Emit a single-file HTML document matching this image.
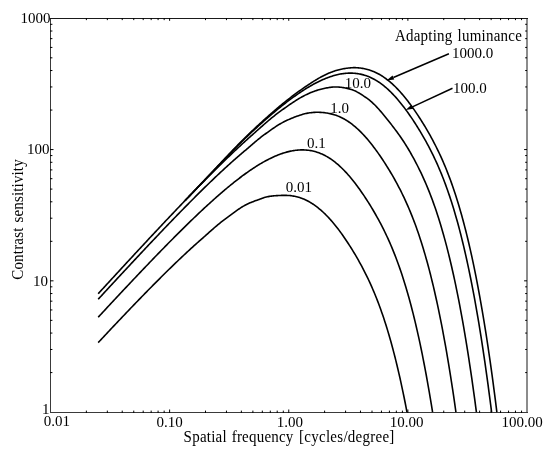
<!DOCTYPE html>
<html><head><meta charset="utf-8"><title>Contrast sensitivity</title>
<style>html,body{margin:0;padding:0;background:#fff}svg{display:block}</style></head>
<body>
<svg width="550" height="456" viewBox="0 0 550 456">
<rect width="550" height="456" fill="#fff"/>
<g shape-rendering="crispEdges">
<rect x="526" y="18" width="2" height="395" fill="#8c8c8c"/>
<rect x="50" y="18" width="1" height="395" fill="#3a3a3a"/>
<rect x="50" y="18" width="477.6" height="1" fill="#1a1a1a"/>
<rect x="50" y="412" width="477.6" height="1" fill="#3a3a3a"/>
</g>
<path d="M86.36 413v-2.4M86.36 18v2.14M107.34 413v-2.4M107.34 18v2.14M122.22 413v-2.4M122.22 18v2.14M133.76 413v-2.4M133.76 18v2.14M143.20 413v-2.4M143.20 18v2.14M151.17 413v-2.4M151.17 18v2.14M158.08 413v-2.4M158.08 18v2.14M164.17 413v-2.4M164.17 18v2.14M169.62 413v-3.5M169.62 18v2.80M205.49 413v-2.4M205.49 18v2.14M226.46 413v-2.4M226.46 18v2.14M241.35 413v-2.4M241.35 18v2.14M252.89 413v-2.4M252.89 18v2.14M262.32 413v-2.4M262.32 18v2.14M270.30 413v-2.4M270.30 18v2.14M277.21 413v-2.4M277.21 18v2.14M283.30 413v-2.4M283.30 18v2.14M288.75 413v-3.5M288.75 18v2.80M324.61 413v-2.4M324.61 18v2.14M345.59 413v-2.4M345.59 18v2.14M360.47 413v-2.4M360.47 18v2.14M372.01 413v-2.4M372.01 18v2.14M381.45 413v-2.4M381.45 18v2.14M389.42 413v-2.4M389.42 18v2.14M396.33 413v-2.4M396.33 18v2.14M402.42 413v-2.4M402.42 18v2.14M407.88 413v-3.5M407.88 18v2.80M443.74 413v-2.4M443.74 18v2.14M464.71 413v-2.4M464.71 18v2.14M479.60 413v-2.4M479.60 18v2.14M491.14 413v-2.4M491.14 18v2.14M500.57 413v-2.4M500.57 18v2.14M508.55 413v-2.4M508.55 18v2.14M515.46 413v-2.4M515.46 18v2.14M521.55 413v-2.4M521.55 18v2.14M50 372.58h2.4M527 372.58h-1.7999999999999998M50 349.47h2.4M527 349.47h-1.7999999999999998M50 333.07h2.4M527 333.07h-1.7999999999999998M50 320.35h2.4M527 320.35h-1.7999999999999998M50 309.95h2.4M527 309.95h-1.7999999999999998M50 301.17h2.4M527 301.17h-1.7999999999999998M50 293.55h2.4M527 293.55h-1.7999999999999998M50 286.84h2.4M527 286.84h-1.7999999999999998M50 280.83h3.5M527 280.83h-2.9M50 241.32h2.4M527 241.32h-1.7999999999999998M50 218.20h2.4M527 218.20h-1.7999999999999998M50 201.80h2.4M527 201.80h-1.7999999999999998M50 189.08h2.4M527 189.08h-1.7999999999999998M50 178.69h2.4M527 178.69h-1.7999999999999998M50 169.90h2.4M527 169.90h-1.7999999999999998M50 162.29h2.4M527 162.29h-1.7999999999999998M50 155.57h2.4M527 155.57h-1.7999999999999998M50 149.57h3.5M527 149.57h-2.9M50 110.05h2.4M527 110.05h-1.7999999999999998M50 86.94h2.4M527 86.94h-1.7999999999999998M50 70.54h2.4M527 70.54h-1.7999999999999998M50 57.82h2.4M527 57.82h-1.7999999999999998M50 47.42h2.4M527 47.42h-1.7999999999999998M50 38.63h2.4M527 38.63h-1.7999999999999998M50 31.02h2.4M527 31.02h-1.7999999999999998M50 24.31h2.4M527 24.31h-1.7999999999999998" stroke="#000" stroke-width="1" fill="none"/>
<path d="M98.20 342.60L99.21 341.51L100.22 340.43L101.24 339.35L102.25 338.27L103.26 337.19L104.27 336.11L105.29 335.03L106.30 333.95L107.31 332.87L108.32 331.80L109.34 330.72L110.35 329.64L111.36 328.57L112.37 327.50L113.39 326.42L114.40 325.35L115.41 324.28L116.42 323.21L117.44 322.14L118.45 321.07L119.46 320.00L120.47 318.93L121.49 317.87L122.50 316.80L123.51 315.74L124.52 314.68L125.54 313.62L126.55 312.55L127.56 311.49L128.57 310.44L129.59 309.38L130.60 308.32L131.61 307.27L132.62 306.21L133.64 305.16L134.65 304.11L135.66 303.06L136.67 302.01L137.69 300.96L138.70 299.92L139.71 298.87L140.72 297.83L141.73 296.79L142.75 295.74L143.76 294.71L144.77 293.67L145.78 292.63L146.80 291.60L147.81 290.56L148.82 289.53L149.83 288.50L150.85 287.48L151.86 286.45L152.87 285.42L153.88 284.40L154.90 283.38L155.91 282.36L156.92 281.34L157.93 280.33L158.95 279.32L159.96 278.31L160.97 277.30L161.98 276.29L163.00 275.28L164.01 274.28L165.02 273.28L166.03 272.28L167.05 271.29L168.06 270.29L169.07 269.30L170.08 268.31L171.10 267.33L172.11 266.34L173.12 265.36L174.13 264.38L175.15 263.41L176.16 262.44L177.17 261.47L178.18 260.50L179.19 259.53L180.21 258.57L181.22 257.62L182.23 256.66L183.24 255.71L184.26 254.76L185.27 253.81L186.28 252.87L187.29 251.93L188.31 251.00L189.32 250.07L190.33 249.14L191.34 248.21L192.36 247.29L193.37 246.38L194.38 245.46L195.39 244.55L196.41 243.65L197.42 242.75L198.43 241.85L199.44 240.96L200.46 240.07L201.47 239.18L202.48 238.28L203.49 237.39L204.51 236.49L205.52 235.58L206.53 234.68L207.54 233.78L208.56 232.87L209.57 231.97L210.58 231.07L211.59 230.18L212.61 229.28L213.62 228.40L214.63 227.52L215.64 226.65L216.66 225.79L217.67 224.93L218.68 224.09L219.69 223.26L220.70 222.45L221.72 221.65L222.73 220.86L223.74 220.08L224.75 219.32L225.77 218.57L226.78 217.82L227.79 217.07L228.80 216.31L229.82 215.55L230.83 214.79L231.84 214.04L232.85 213.29L233.87 212.54L234.88 211.80L235.89 211.08L236.90 210.36L237.92 209.66L238.93 208.97L239.94 208.31L240.95 207.66L241.97 207.03L242.98 206.42L243.99 205.84L245.00 205.28L246.02 204.75L247.03 204.24L248.04 203.76L249.05 203.29L250.07 202.85L251.08 202.43L252.09 202.02L253.10 201.63L254.12 201.25L255.13 200.87L256.14 200.50L257.15 200.13L258.17 199.76L259.18 199.40L260.19 199.03L261.20 198.65L262.21 198.28L263.23 197.93L264.24 197.60L265.25 197.31L266.26 197.04L267.28 196.81L268.29 196.60L269.30 196.41L270.31 196.25L271.33 196.11L272.34 195.98L273.35 195.88L274.36 195.79L275.38 195.71L276.39 195.65L277.40 195.59L278.41 195.54L279.43 195.49L280.44 195.46L281.45 195.42L282.46 195.39L283.48 195.36L284.49 195.35L285.50 195.36L286.51 195.38L287.53 195.43L288.54 195.49L289.55 195.57L290.56 195.67L291.58 195.79L292.59 195.93L293.60 196.10L294.61 196.28L295.63 196.49L296.64 196.72L297.65 196.98L298.66 197.26L299.68 197.56L300.69 197.89L301.70 198.25L302.71 198.64L303.72 199.05L304.74 199.49L305.75 199.95L306.76 200.45L307.77 200.98L308.79 201.53L309.80 202.11L310.81 202.73L311.82 203.36L312.84 204.02L313.85 204.71L314.86 205.42L315.87 206.16L316.89 206.92L317.90 207.71L318.91 208.52L319.92 209.36L320.94 210.22L321.95 211.11L322.96 212.03L323.97 212.98L324.99 213.95L326.00 214.95L327.01 215.97L328.02 217.02L329.04 218.10L330.05 219.21L331.06 220.35L332.07 221.51L333.09 222.70L334.10 223.91L335.11 225.15L336.12 226.42L337.14 227.72L338.15 229.04L339.16 230.39L340.17 231.76L341.18 233.15L342.20 234.57L343.21 236.01L344.22 237.47L345.23 238.95L346.25 240.45L347.26 241.98L348.27 243.52L349.28 245.09L350.30 246.67L351.31 248.28L352.32 249.92L353.33 251.57L354.35 253.25L355.36 254.95L356.37 256.68L357.38 258.43L358.40 260.21L359.41 262.02L360.42 263.85L361.43 265.72L362.45 267.62L363.46 269.55L364.47 271.52L365.48 273.52L366.50 275.57L367.51 277.65L368.52 279.78L369.53 281.95L370.55 284.16L371.56 286.42L372.57 288.74L373.58 291.10L374.60 293.52L375.61 296.00L376.62 298.54L377.63 301.13L378.65 303.79L379.66 306.51L380.67 309.30L381.68 312.16L382.69 315.09L383.71 318.09L384.72 321.17L385.73 324.33L386.74 327.56L387.76 330.88L388.77 334.28L389.78 337.76L390.79 341.34L391.81 345.00L392.82 348.76L393.83 352.61L394.84 356.55L395.86 360.60L396.87 364.74L397.88 368.99L398.89 373.34L399.91 377.80L400.92 382.37L401.93 387.05L402.94 391.84L403.96 396.75L404.97 401.78L405.98 406.93L406.97 412.10" fill="none" stroke="#000" stroke-width="1.6" stroke-linejoin="round"/>
<path d="M98.20 317.23L99.21 316.13L100.22 315.04L101.24 313.95L102.25 312.86L103.26 311.77L104.27 310.68L105.29 309.59L106.30 308.50L107.31 307.41L108.32 306.32L109.34 305.23L110.35 304.15L111.36 303.06L112.37 301.97L113.39 300.89L114.40 299.80L115.41 298.72L116.42 297.64L117.44 296.55L118.45 295.47L119.46 294.39L120.47 293.31L121.49 292.23L122.50 291.15L123.51 290.07L124.52 288.99L125.54 287.91L126.55 286.84L127.56 285.76L128.57 284.68L129.59 283.61L130.60 282.54L131.61 281.46L132.62 280.39L133.64 279.32L134.65 278.25L135.66 277.18L136.67 276.11L137.69 275.05L138.70 273.98L139.71 272.91L140.72 271.85L141.73 270.78L142.75 269.72L143.76 268.66L144.77 267.60L145.78 266.54L146.80 265.48L147.81 264.43L148.82 263.37L149.83 262.32L150.85 261.26L151.86 260.21L152.87 259.16L153.88 258.11L154.90 257.06L155.91 256.01L156.92 254.97L157.93 253.92L158.95 252.88L159.96 251.84L160.97 250.80L161.98 249.76L163.00 248.72L164.01 247.69L165.02 246.65L166.03 245.62L167.05 244.59L168.06 243.56L169.07 242.53L170.08 241.51L171.10 240.48L172.11 239.46L173.12 238.44L174.13 237.42L175.15 236.41L176.16 235.39L177.17 234.38L178.18 233.37L179.19 232.36L180.21 231.35L181.22 230.35L182.23 229.35L183.24 228.35L184.26 227.35L185.27 226.36L186.28 225.36L187.29 224.37L188.31 223.39L189.32 222.40L190.33 221.42L191.34 220.44L192.36 219.46L193.37 218.49L194.38 217.51L195.39 216.55L196.41 215.58L197.42 214.62L198.43 213.66L199.44 212.70L200.46 211.74L201.47 210.79L202.48 209.85L203.49 208.90L204.51 207.96L205.52 207.02L206.53 206.09L207.54 205.16L208.56 204.23L209.57 203.31L210.58 202.39L211.59 201.47L212.61 200.56L213.62 199.65L214.63 198.75L215.64 197.85L216.66 196.96L217.67 196.07L218.68 195.18L219.69 194.30L220.70 193.42L221.72 192.55L222.73 191.68L223.74 190.82L224.75 189.96L225.77 189.11L226.78 188.26L227.79 187.42L228.80 186.58L229.82 185.75L230.83 184.92L231.84 184.10L232.85 183.29L233.87 182.48L234.88 181.67L235.89 180.88L236.90 180.09L237.92 179.30L238.93 178.52L239.94 177.75L240.95 176.99L241.97 176.23L242.98 175.48L243.99 174.74L245.00 174.00L246.02 173.27L247.03 172.55L248.04 171.84L249.05 171.13L250.07 170.44L251.08 169.75L252.09 169.06L253.10 168.39L254.12 167.73L255.13 167.07L256.14 166.43L257.15 165.79L258.17 165.16L259.18 164.54L260.19 163.93L261.20 163.33L262.21 162.74L263.23 162.16L264.24 161.60L265.25 161.04L266.26 160.49L267.28 159.95L268.29 159.43L269.30 158.91L270.31 158.41L271.33 157.92L272.34 157.44L273.35 156.98L274.36 156.52L275.38 156.08L276.39 155.65L277.40 155.24L278.41 154.84L279.43 154.45L280.44 154.07L281.45 153.71L282.46 153.37L283.48 153.04L284.49 152.72L285.50 152.42L286.51 152.13L287.53 151.86L288.54 151.61L289.55 151.37L290.56 151.15L291.58 150.94L292.59 150.76L293.60 150.59L294.61 150.43L295.63 150.30L296.64 150.18L297.65 150.08L298.66 150.01L299.68 149.95L300.69 149.91L301.70 149.88L302.71 149.88L303.72 149.90L304.74 149.94L305.75 150.00L306.76 150.09L307.77 150.19L308.79 150.32L309.80 150.46L310.81 150.64L311.82 150.83L312.84 151.04L313.85 151.28L314.86 151.55L315.87 151.84L316.89 152.15L317.90 152.48L318.91 152.85L319.92 153.23L320.94 153.64L321.95 154.08L322.96 154.54L323.97 155.03L324.99 155.55L326.00 156.09L327.01 156.66L328.02 157.26L329.04 157.88L330.05 158.53L331.06 159.21L332.07 159.91L333.09 160.64L334.10 161.40L335.11 162.19L336.12 163.01L337.14 163.85L338.15 164.72L339.16 165.62L340.17 166.54L341.18 167.50L342.20 168.48L343.21 169.49L344.22 170.52L345.23 171.58L346.25 172.67L347.26 173.78L348.27 174.92L349.28 176.09L350.30 177.28L351.31 178.50L352.32 179.74L353.33 181.00L354.35 182.29L355.36 183.60L356.37 184.94L357.38 186.30L358.40 187.68L359.41 189.08L360.42 190.51L361.43 191.95L362.45 193.42L363.46 194.91L364.47 196.42L365.48 197.95L366.50 199.50L367.51 201.08L368.52 202.67L369.53 204.29L370.55 205.93L371.56 207.59L372.57 209.28L373.58 210.99L374.60 212.73L375.61 214.49L376.62 216.28L377.63 218.10L378.65 219.94L379.66 221.82L380.67 223.73L381.68 225.68L382.69 227.66L383.71 229.68L384.72 231.73L385.73 233.83L386.74 235.97L387.76 238.16L388.77 240.39L389.78 242.67L390.79 245.00L391.81 247.39L392.82 249.83L393.83 252.33L394.84 254.88L395.86 257.50L396.87 260.18L397.88 262.93L398.89 265.74L399.91 268.63L400.92 271.58L401.93 274.61L402.94 277.72L403.96 280.90L404.97 284.16L405.98 287.51L406.99 290.94L408.01 294.46L409.02 298.06L410.03 301.76L411.04 305.55L412.06 309.43L413.07 313.41L414.08 317.49L415.09 321.67L416.11 325.96L417.12 330.35L418.13 334.85L419.14 339.45L420.16 344.18L421.17 349.01L422.18 353.96L423.19 359.04L424.20 364.23L425.22 369.55L426.23 375.00L427.24 380.57L428.25 386.28L429.27 392.12L430.28 398.10L431.29 404.22L432.30 410.48L432.56 412.10" fill="none" stroke="#000" stroke-width="1.6" stroke-linejoin="round"/>
<path d="M98.20 299.23L99.21 298.13L100.22 297.03L101.24 295.93L102.25 294.84L103.26 293.74L104.27 292.64L105.29 291.54L106.30 290.44L107.31 289.35L108.32 288.25L109.34 287.16L110.35 286.06L111.36 284.97L112.37 283.87L113.39 282.78L114.40 281.68L115.41 280.59L116.42 279.50L117.44 278.40L118.45 277.31L119.46 276.22L120.47 275.13L121.49 274.04L122.50 272.95L123.51 271.86L124.52 270.77L125.54 269.68L126.55 268.59L127.56 267.51L128.57 266.42L129.59 265.33L130.60 264.25L131.61 263.16L132.62 262.08L133.64 260.99L134.65 259.91L135.66 258.83L136.67 257.74L137.69 256.66L138.70 255.58L139.71 254.50L140.72 253.42L141.73 252.34L142.75 251.27L143.76 250.19L144.77 249.11L145.78 248.04L146.80 246.96L147.81 245.89L148.82 244.81L149.83 243.74L150.85 242.67L151.86 241.60L152.87 240.53L153.88 239.46L154.90 238.39L155.91 237.33L156.92 236.26L157.93 235.19L158.95 234.13L159.96 233.07L160.97 232.00L161.98 230.94L163.00 229.88L164.01 228.82L165.02 227.77L166.03 226.71L167.05 225.66L168.06 224.60L169.07 223.55L170.08 222.50L171.10 221.45L172.11 220.40L173.12 219.35L174.13 218.30L175.15 217.26L176.16 216.21L177.17 215.17L178.18 214.13L179.19 213.09L180.21 212.05L181.22 211.02L182.23 209.98L183.24 208.95L184.26 207.92L185.27 206.89L186.28 205.86L187.29 204.83L188.31 203.81L189.32 202.78L190.33 201.76L191.34 200.74L192.36 199.72L193.37 198.71L194.38 197.69L195.39 196.68L196.41 195.67L197.42 194.67L198.43 193.66L199.44 192.66L200.46 191.66L201.47 190.66L202.48 189.66L203.49 188.67L204.51 187.68L205.52 186.69L206.53 185.70L207.54 184.72L208.56 183.73L209.57 182.76L210.58 181.78L211.59 180.81L212.61 179.83L213.62 178.87L214.63 177.90L215.64 176.94L216.66 175.98L217.67 175.03L218.68 174.07L219.69 173.12L220.70 172.18L221.72 171.23L222.73 170.29L223.74 169.36L224.75 168.43L225.77 167.50L226.78 166.57L227.79 165.65L228.80 164.73L229.82 163.82L230.83 162.91L231.84 162.00L232.85 161.10L233.87 160.20L234.88 159.31L235.89 158.42L236.90 157.54L237.92 156.66L238.93 155.78L239.94 154.91L240.95 154.05L241.97 153.18L242.98 152.33L243.99 151.48L245.00 150.63L246.02 149.79L247.03 148.93L248.04 148.07L249.05 147.21L250.07 146.34L251.08 145.46L252.09 144.59L253.10 143.71L254.12 142.84L255.13 141.97L256.14 141.11L257.15 140.26L258.17 139.42L259.18 138.59L260.19 137.78L261.20 136.98L262.21 136.20L263.23 135.44L264.24 134.70L265.25 133.98L266.26 133.26L267.28 132.54L268.29 131.82L269.30 131.09L270.31 130.37L271.33 129.65L272.34 128.94L273.35 128.23L274.36 127.54L275.38 126.86L276.39 126.19L277.40 125.55L278.41 124.92L279.43 124.31L280.44 123.73L281.45 123.16L282.46 122.61L283.48 122.07L284.49 121.55L285.50 121.05L286.51 120.56L287.53 120.08L288.54 119.62L289.55 119.18L290.56 118.74L291.58 118.32L292.59 117.91L293.60 117.51L294.61 117.12L295.63 116.74L296.64 116.36L297.65 116.00L298.66 115.64L299.68 115.29L300.69 114.96L301.70 114.64L302.71 114.34L303.72 114.06L304.74 113.81L305.75 113.57L306.76 113.35L307.77 113.16L308.79 112.99L309.80 112.83L310.81 112.70L311.82 112.58L312.84 112.49L313.85 112.42L314.86 112.36L315.87 112.32L316.89 112.30L317.90 112.30L318.91 112.32L319.92 112.36L320.94 112.41L321.95 112.48L322.96 112.56L323.97 112.67L324.99 112.79L326.00 112.92L327.01 113.08L328.02 113.25L329.04 113.44L330.05 113.64L331.06 113.87L332.07 114.12L333.09 114.39L334.10 114.69L335.11 115.01L336.12 115.36L337.14 115.73L338.15 116.13L339.16 116.55L340.17 117.00L341.18 117.47L342.20 117.97L343.21 118.50L344.22 119.05L345.23 119.63L346.25 120.24L347.26 120.88L348.27 121.54L349.28 122.23L350.30 122.94L351.31 123.69L352.32 124.46L353.33 125.26L354.35 126.08L355.36 126.94L356.37 127.82L357.38 128.73L358.40 129.67L359.41 130.63L360.42 131.62L361.43 132.64L362.45 133.69L363.46 134.76L364.47 135.86L365.48 136.99L366.50 138.14L367.51 139.31L368.52 140.52L369.53 141.74L370.55 142.99L371.56 144.27L372.57 145.57L373.58 146.89L374.60 148.23L375.61 149.60L376.62 150.99L377.63 152.40L378.65 153.84L379.66 155.29L380.67 156.77L381.68 158.27L382.69 159.79L383.71 161.33L384.72 162.89L385.73 164.47L386.74 166.08L387.76 167.70L388.77 169.35L389.78 171.02L390.79 172.72L391.81 174.44L392.82 176.19L393.83 177.96L394.84 179.76L395.86 181.59L396.87 183.45L397.88 185.35L398.89 187.27L399.91 189.23L400.92 191.23L401.93 193.26L402.94 195.33L403.96 197.45L404.97 199.61L405.98 201.82L406.99 204.07L408.01 206.37L409.02 208.72L410.03 211.13L411.04 213.60L412.06 216.12L413.07 218.70L414.08 221.34L415.09 224.05L416.11 226.83L417.12 229.67L418.13 232.58L419.14 235.57L420.16 238.63L421.17 241.77L422.18 244.99L423.19 248.28L424.20 251.67L425.22 255.13L426.23 258.69L427.24 262.33L428.25 266.06L429.27 269.89L430.28 273.82L431.29 277.84L432.30 281.96L433.32 286.18L434.33 290.51L435.34 294.95L436.35 299.49L437.37 304.15L438.38 308.92L439.39 313.80L440.40 318.80L441.42 323.93L442.43 329.17L443.44 334.55L444.45 340.05L445.47 345.68L446.48 351.44L447.49 357.34L448.50 363.38L449.52 369.56L450.53 375.88L451.54 382.35L452.55 388.97L453.57 395.74L454.58 402.67L455.59 409.76L455.92 412.10" fill="none" stroke="#000" stroke-width="1.6" stroke-linejoin="round"/>
<path d="M98.20 293.72L99.21 292.62L100.22 291.51L101.24 290.41L102.25 289.30L103.26 288.20L104.27 287.10L105.29 286.00L106.30 284.89L107.31 283.79L108.32 282.69L109.34 281.59L110.35 280.49L111.36 279.39L112.37 278.29L113.39 277.19L114.40 276.09L115.41 274.99L116.42 273.89L117.44 272.79L118.45 271.69L119.46 270.59L120.47 269.49L121.49 268.40L122.50 267.30L123.51 266.20L124.52 265.10L125.54 264.01L126.55 262.91L127.56 261.82L128.57 260.72L129.59 259.63L130.60 258.53L131.61 257.44L132.62 256.35L133.64 255.25L134.65 254.16L135.66 253.07L136.67 251.98L137.69 250.88L138.70 249.79L139.71 248.70L140.72 247.61L141.73 246.53L142.75 245.44L143.76 244.35L144.77 243.26L145.78 242.17L146.80 241.09L147.81 240.00L148.82 238.92L149.83 237.83L150.85 236.75L151.86 235.66L152.87 234.58L153.88 233.50L154.90 232.42L155.91 231.34L156.92 230.26L157.93 229.18L158.95 228.10L159.96 227.02L160.97 225.94L161.98 224.87L163.00 223.79L164.01 222.72L165.02 221.64L166.03 220.57L167.05 219.50L168.06 218.43L169.07 217.35L170.08 216.29L171.10 215.22L172.11 214.15L173.12 213.08L174.13 212.02L175.15 210.95L176.16 209.89L177.17 208.82L178.18 207.76L179.19 206.70L180.21 205.64L181.22 204.58L182.23 203.52L183.24 202.47L184.26 201.41L185.27 200.36L186.28 199.30L187.29 198.25L188.31 197.20L189.32 196.15L190.33 195.10L191.34 194.06L192.36 193.01L193.37 191.97L194.38 190.93L195.39 189.89L196.41 188.85L197.42 187.81L198.43 186.77L199.44 185.74L200.46 184.70L201.47 183.67L202.48 182.64L203.49 181.61L204.51 180.59L205.52 179.56L206.53 178.54L207.54 177.52L208.56 176.50L209.57 175.48L210.58 174.46L211.59 173.45L212.61 172.44L213.62 171.43L214.63 170.42L215.64 169.42L216.66 168.41L217.67 167.41L218.68 166.41L219.69 165.42L220.70 164.42L221.72 163.43L222.73 162.44L223.74 161.46L224.75 160.47L225.77 159.49L226.78 158.51L227.79 157.54L228.80 156.56L229.82 155.59L230.83 154.62L231.84 153.66L232.85 152.70L233.87 151.74L234.88 150.78L235.89 149.83L236.90 148.88L237.92 147.93L238.93 146.99L239.94 146.05L240.95 145.11L241.97 144.18L242.98 143.25L243.99 142.33L245.00 141.41L246.02 140.49L247.03 139.57L248.04 138.67L249.05 137.76L250.07 136.86L251.08 135.96L252.09 135.05L253.10 134.15L254.12 133.25L255.13 132.34L256.14 131.44L257.15 130.53L258.17 129.63L259.18 128.73L260.19 127.83L261.20 126.93L262.21 126.03L263.23 125.14L264.24 124.25L265.25 123.37L266.26 122.49L267.28 121.62L268.29 120.76L269.30 119.91L270.31 119.06L271.33 118.22L272.34 117.39L273.35 116.58L274.36 115.77L275.38 114.97L276.39 114.19L277.40 113.42L278.41 112.66L279.43 111.91L280.44 111.18L281.45 110.45L282.46 109.72L283.48 108.99L284.49 108.27L285.50 107.55L286.51 106.83L287.53 106.12L288.54 105.42L289.55 104.71L290.56 104.02L291.58 103.33L292.59 102.65L293.60 101.98L294.61 101.32L295.63 100.67L296.64 100.03L297.65 99.40L298.66 98.78L299.68 98.18L300.69 97.60L301.70 97.02L302.71 96.47L303.72 95.93L304.74 95.40L305.75 94.89L306.76 94.41L307.77 93.93L308.79 93.48L309.80 93.03L310.81 92.61L311.82 92.20L312.84 91.80L313.85 91.42L314.86 91.05L315.87 90.70L316.89 90.37L317.90 90.05L318.91 89.75L319.92 89.46L320.94 89.18L321.95 88.92L322.96 88.68L323.97 88.45L324.99 88.23L326.00 88.03L327.01 87.84L328.02 87.67L329.04 87.51L330.05 87.36L331.06 87.24L332.07 87.14L333.09 87.07L334.10 87.02L335.11 86.99L336.12 86.99L337.14 87.01L338.15 87.06L339.16 87.12L340.17 87.21L341.18 87.32L342.20 87.45L343.21 87.60L344.22 87.77L345.23 87.96L346.25 88.16L347.26 88.38L348.27 88.62L349.28 88.88L350.30 89.16L351.31 89.47L352.32 89.82L353.33 90.21L354.35 90.63L355.36 91.10L356.37 91.59L357.38 92.12L358.40 92.68L359.41 93.27L360.42 93.89L361.43 94.52L362.45 95.18L363.46 95.86L364.47 96.55L365.48 97.25L366.50 97.97L367.51 98.71L368.52 99.45L369.53 100.24L370.55 101.07L371.56 101.94L372.57 102.85L373.58 103.80L374.60 104.79L375.61 105.81L376.62 106.87L377.63 107.96L378.65 109.07L379.66 110.21L380.67 111.37L381.68 112.56L382.69 113.76L383.71 114.97L384.72 116.20L385.73 117.45L386.74 118.70L387.76 119.96L388.77 121.23L389.78 122.52L390.79 123.81L391.81 125.12L392.82 126.43L393.83 127.76L394.84 129.11L395.86 130.47L396.87 131.84L397.88 133.23L398.89 134.64L399.91 136.08L400.92 137.53L401.93 139.01L402.94 140.52L403.96 142.06L404.97 143.62L405.98 145.22L406.99 146.85L408.01 148.52L409.02 150.22L410.03 151.96L411.04 153.73L412.06 155.53L413.07 157.36L414.08 159.22L415.09 161.12L416.11 163.04L417.12 165.00L418.13 167.00L419.14 169.03L420.16 171.11L421.17 173.22L422.18 175.38L423.19 177.59L424.20 179.84L425.22 182.14L426.23 184.50L427.24 186.91L428.25 189.37L429.27 191.89L430.28 194.47L431.29 197.12L432.30 199.83L433.32 202.60L434.33 205.45L435.34 208.36L436.35 211.35L437.37 214.41L438.38 217.55L439.39 220.76L440.40 224.06L441.42 227.44L442.43 230.91L443.44 234.47L444.45 238.11L445.47 241.84L446.48 245.67L447.49 249.60L448.50 253.62L449.52 257.74L450.53 261.97L451.54 266.30L452.55 270.73L453.57 275.28L454.58 279.93L455.59 284.70L456.60 289.59L457.62 294.59L458.63 299.72L459.64 304.96L460.65 310.33L461.67 315.84L462.68 321.47L463.69 327.23L464.70 333.13L465.71 339.17L466.73 345.35L467.74 351.67L468.75 358.15L469.76 364.77L470.78 371.54L471.79 378.47L472.80 385.56L473.81 392.81L474.83 400.23L475.84 407.81L476.40 412.10" fill="none" stroke="#000" stroke-width="1.6" stroke-linejoin="round"/>
<path d="M185.27 200.36L186.28 199.30L187.29 198.25L188.31 197.19L189.32 196.13L190.33 195.08L191.34 194.02L192.36 192.96L193.37 191.90L194.38 190.84L195.39 189.78L196.41 188.72L197.42 187.66L198.43 186.59L199.44 185.53L200.46 184.47L201.47 183.40L202.48 182.34L203.49 181.28L204.51 180.21L205.52 179.15L206.53 178.08L207.54 177.02L208.56 175.96L209.57 174.89L210.58 173.83L211.59 172.76L212.61 171.70L213.62 170.64L214.63 169.58L215.64 168.51L216.66 167.45L217.67 166.39L218.68 165.33L219.69 164.27L220.70 163.21L221.72 162.16L222.73 161.10L223.74 160.05L224.75 158.99L225.77 157.94L226.78 156.89L227.79 155.85L228.80 154.80L229.82 153.76L230.83 152.72L231.84 151.68L232.85 150.64L233.87 149.61L234.88 148.58L235.89 147.55L236.90 146.53L237.92 145.51L238.93 144.50L239.94 143.48L240.95 142.48L241.97 141.48L242.98 140.48L243.99 139.49L245.00 138.50L246.02 137.52L247.03 136.55L248.04 135.58L249.05 134.63L250.07 133.67L251.08 132.73L252.09 131.78L253.10 130.84L254.12 129.91L255.13 128.97L256.14 128.05L257.15 127.12L258.17 126.20L259.18 125.28L260.19 124.37L261.20 123.46L262.21 122.55L263.23 121.65L264.24 120.75L265.25 119.86L266.26 118.97L267.28 118.08L268.29 117.20L269.30 116.33L270.31 115.46L271.33 114.59L272.34 113.73L273.35 112.87L274.36 112.02L275.38 111.18L276.39 110.34L277.40 109.50L278.41 108.67L279.43 107.85L280.44 107.03L281.45 106.21L282.46 105.41L283.48 104.61L284.49 103.81L285.50 103.02L286.51 102.24L287.53 101.47L288.54 100.70L289.55 99.94L290.56 99.18L291.58 98.43L292.59 97.69L293.60 96.96L294.61 96.23L295.63 95.52L296.64 94.80L297.65 94.10L298.66 93.41L299.68 92.72L300.69 92.04L301.70 91.37L302.71 90.71L303.72 90.06L304.74 89.42L305.75 88.78L306.76 88.16L307.77 87.54L308.79 86.94L309.80 86.34L310.81 85.75L311.82 85.18L312.84 84.61L313.85 84.06L314.86 83.52L315.87 82.98L316.89 82.46L317.90 81.95L318.91 81.45L319.92 80.97L320.94 80.49L321.95 80.03L322.96 79.58L323.97 79.15L324.99 78.72L326.00 78.31L327.01 77.91L328.02 77.53L329.04 77.16L330.05 76.81L331.06 76.47L332.07 76.14L333.09 75.83L334.10 75.53L335.11 75.25L336.12 74.99L337.14 74.74L338.15 74.51L339.16 74.29L340.17 74.09L341.18 73.91L342.20 73.75L343.21 73.60L344.22 73.47L345.23 73.36L346.25 73.27L347.26 73.20L348.27 73.15L349.28 73.11L350.30 73.10L351.31 73.11L352.32 73.13L353.33 73.18L354.35 73.25L355.36 73.34L356.37 73.45L357.38 73.59L358.40 73.74L359.41 73.92L360.42 74.12L361.43 74.35L362.45 74.60L363.46 74.87L364.47 75.16L365.48 75.48L366.50 75.83L367.51 76.20L368.52 76.60L369.53 77.02L370.55 77.46L371.56 77.94L372.57 78.43L373.58 78.96L374.60 79.51L375.61 80.09L376.62 80.69L377.63 81.33L378.65 81.99L379.66 82.67L380.67 83.39L381.68 84.13L382.69 84.90L383.71 85.70L384.72 86.52L385.73 87.38L386.74 88.26L387.76 89.17L388.77 90.10L389.78 91.06L390.79 92.05L391.81 93.07L392.82 94.12L393.83 95.19L394.84 96.28L395.86 97.41L396.87 98.56L397.88 99.73L398.89 100.93L399.91 102.16L400.92 103.41L401.93 104.68L402.94 105.98L403.96 107.30L404.97 108.64L405.98 110.01L406.99 111.40L408.01 112.81L409.02 114.24L410.03 115.69L411.04 117.17L412.06 118.67L413.07 120.18L414.08 121.72L415.09 123.28L416.11 124.86L417.12 126.47L418.13 128.09L419.14 129.74L420.16 131.41L421.17 133.11L422.18 134.83L423.19 136.57L424.20 138.34L425.22 140.14L426.23 141.97L427.24 143.83L428.25 145.72L429.27 147.64L430.28 149.60L431.29 151.59L432.30 153.63L433.32 155.70L434.33 157.81L435.34 159.97L436.35 162.17L437.37 164.42L438.38 166.72L439.39 169.07L440.40 171.47L441.42 173.93L442.43 176.45L443.44 179.03L444.45 181.67L445.47 184.37L446.48 187.15L447.49 189.98L448.50 192.89L449.52 195.88L450.53 198.93L451.54 202.06L452.55 205.28L453.57 208.57L454.58 211.95L455.59 215.41L456.60 218.96L457.62 222.59L458.63 226.32L459.64 230.14L460.65 234.06L461.67 238.08L462.68 242.19L463.69 246.41L464.70 250.73L465.71 255.16L466.73 259.70L467.74 264.35L468.75 269.11L469.76 273.99L470.78 278.98L471.79 284.10L472.80 289.34L473.81 294.70L474.83 300.19L475.84 305.82L476.85 311.57L477.86 317.46L478.88 323.49L479.89 329.66L480.90 335.98L481.91 342.44L482.93 349.05L483.94 355.81L484.95 362.73L485.96 369.81L486.98 377.05L487.99 384.46L489.00 392.03L490.01 399.77L491.03 407.69L491.58 412.10" fill="none" stroke="#000" stroke-width="1.6" stroke-linejoin="round"/>
<path d="M185.27 200.36L186.28 199.30L187.29 198.25L188.31 197.19L189.32 196.13L190.33 195.07L191.34 194.01L192.36 192.95L193.37 191.88L194.38 190.82L195.39 189.76L196.41 188.69L197.42 187.62L198.43 186.56L199.44 185.49L200.46 184.42L201.47 183.35L202.48 182.28L203.49 181.20L204.51 180.13L205.52 179.06L206.53 177.98L207.54 176.91L208.56 175.84L209.57 174.76L210.58 173.69L211.59 172.61L212.61 171.53L213.62 170.46L214.63 169.38L215.64 168.31L216.66 167.23L217.67 166.16L218.68 165.08L219.69 164.01L220.70 162.93L221.72 161.86L222.73 160.79L223.74 159.72L224.75 158.65L225.77 157.58L226.78 156.51L227.79 155.45L228.80 154.38L229.82 153.32L230.83 152.26L231.84 151.20L232.85 150.15L233.87 149.09L234.88 148.04L235.89 147.00L236.90 145.96L237.92 144.92L238.93 143.88L239.94 142.85L240.95 141.83L241.97 140.81L242.98 139.79L243.99 138.78L245.00 137.78L246.02 136.78L247.03 135.79L248.04 134.81L249.05 133.83L250.07 132.87L251.08 131.91L252.09 130.95L253.10 129.99L254.12 129.04L255.13 128.09L256.14 127.15L257.15 126.21L258.17 125.27L259.18 124.33L260.19 123.40L261.20 122.47L262.21 121.55L263.23 120.63L264.24 119.71L265.25 118.80L266.26 117.89L267.28 116.99L268.29 116.09L269.30 115.19L270.31 114.30L271.33 113.41L272.34 112.53L273.35 111.65L274.36 110.78L275.38 109.91L276.39 109.05L277.40 108.19L278.41 107.33L279.43 106.48L280.44 105.64L281.45 104.80L282.46 103.97L283.48 103.14L284.49 102.32L285.50 101.50L286.51 100.69L287.53 99.89L288.54 99.09L289.55 98.30L290.56 97.51L291.58 96.73L292.59 95.96L293.60 95.20L294.61 94.44L295.63 93.68L296.64 92.94L297.65 92.20L298.66 91.47L299.68 90.75L300.69 90.03L301.70 89.32L302.71 88.61L303.72 87.91L304.74 87.21L305.75 86.52L306.76 85.83L307.77 85.14L308.79 84.47L309.80 83.80L310.81 83.13L311.82 82.48L312.84 81.83L313.85 81.19L314.86 80.57L315.87 79.95L316.89 79.34L317.90 78.74L318.91 78.16L319.92 77.59L320.94 77.03L321.95 76.48L322.96 75.95L323.97 75.43L324.99 74.93L326.00 74.45L327.01 73.98L328.02 73.52L329.04 73.08L330.05 72.67L331.06 72.26L332.07 71.88L333.09 71.51L334.10 71.17L335.11 70.84L336.12 70.53L337.14 70.24L338.15 69.96L339.16 69.70L340.17 69.46L341.18 69.24L342.20 69.03L343.21 68.83L344.22 68.65L345.23 68.48L346.25 68.32L347.26 68.18L348.27 68.06L349.28 67.94L350.30 67.84L351.31 67.76L352.32 67.70L353.33 67.67L354.35 67.66L355.36 67.67L356.37 67.70L357.38 67.76L358.40 67.84L359.41 67.94L360.42 68.06L361.43 68.21L362.45 68.37L363.46 68.56L364.47 68.77L365.48 68.99L366.50 69.24L367.51 69.51L368.52 69.80L369.53 70.11L370.55 70.44L371.56 70.80L372.57 71.18L373.58 71.58L374.60 72.02L375.61 72.47L376.62 72.96L377.63 73.47L378.65 74.00L379.66 74.57L380.67 75.15L381.68 75.77L382.69 76.42L383.71 77.09L384.72 77.79L385.73 78.51L386.74 79.27L387.76 80.05L388.77 80.86L389.78 81.69L390.79 82.56L391.81 83.45L392.82 84.37L393.83 85.32L394.84 86.29L395.86 87.29L396.87 88.32L397.88 89.38L398.89 90.46L399.91 91.57L400.92 92.70L401.93 93.86L402.94 95.05L403.96 96.26L404.97 97.49L405.98 98.75L406.99 100.04L408.01 101.34L409.02 102.67L410.03 104.03L411.04 105.40L412.06 106.80L413.07 108.22L414.08 109.66L415.09 111.12L416.11 112.61L417.12 114.11L418.13 115.64L419.14 117.19L420.16 118.76L421.17 120.35L422.18 121.96L423.19 123.59L424.20 125.25L425.22 126.93L426.23 128.64L427.24 130.37L428.25 132.13L429.27 133.91L430.28 135.72L431.29 137.56L432.30 139.43L433.32 141.33L434.33 143.27L435.34 145.24L436.35 147.25L437.37 149.30L438.38 151.39L439.39 153.52L440.40 155.70L441.42 157.92L442.43 160.19L443.44 162.51L444.45 164.88L445.47 167.31L446.48 169.80L447.49 172.34L448.50 174.94L449.52 177.61L450.53 180.34L451.54 183.14L452.55 186.01L453.57 188.95L454.58 191.96L455.59 195.05L456.60 198.21L457.62 201.46L458.63 204.79L459.64 208.20L460.65 211.69L461.67 215.28L462.68 218.95L463.69 222.72L464.70 226.58L465.71 230.54L466.73 234.60L467.74 238.76L468.75 243.02L469.76 247.39L470.78 251.86L471.79 256.44L472.80 261.14L473.81 265.95L474.83 270.88L475.84 275.92L476.85 281.09L477.86 286.38L478.88 291.80L479.89 297.34L480.90 303.02L481.91 308.83L482.93 314.78L483.94 320.87L484.95 327.10L485.96 333.47L486.98 340.00L487.99 346.67L489.00 353.50L490.01 360.48L491.03 367.63L492.04 374.94L493.05 382.41L494.06 390.06L495.08 397.88L496.09 405.87L496.86 412.10" fill="none" stroke="#000" stroke-width="1.6" stroke-linejoin="round"/>
<line x1="448.9" y1="53.7" x2="393.39" y2="77.54" stroke="#000" stroke-width="1.5"/><polygon points="386.5,80.5 392.52,75.52 394.26,79.56" fill="#000"/>
<line x1="452.5" y1="88.3" x2="412.41" y2="106.85" stroke="#000" stroke-width="1.5"/><polygon points="405.6,110.0 411.48,104.85 413.33,108.85" fill="#000"/>
<g font-family="'Liberation Serif', 'Times New Roman', serif" font-size="15" fill="#000">
<text x="20.62" y="22.5">1000</text>
<text x="27.12" y="154.4">100</text>
<text x="32.92" y="286.0">10</text>
<text x="41.88" y="414.0">1</text>
<text x="43.67" y="426.4">0.01</text>
<text x="156.38" y="426.6">0.10</text>
<text x="276.82" y="426.6">1.00</text>
<text x="389.82" y="426.6">10.00</text>
<text x="501.52" y="426.6">100.00</text>
<text transform="translate(0,441.8) scale(1,1.05)" y="0"><tspan x="183.60" letter-spacing="0.238">Spatial</tspan> <tspan x="231.70" letter-spacing="0.216">frequency</tspan> <tspan x="299.07" letter-spacing="0.273">[cycles/degree]</tspan></text>
<text transform="translate(23.2,279.2) rotate(-90) scale(1,1.05)" y="0"><tspan x="-0.62" letter-spacing="0.211">Contrast</tspan> <tspan x="56.77" letter-spacing="0.150">sensitivity</tspan></text>
<text transform="translate(0,41.0) scale(1,1.05)" y="0"><tspan x="394.98" letter-spacing="0.218">Adapting</tspan> <tspan x="457.55" letter-spacing="0.231">luminance</tspan></text>
<text x="452.02" y="57.9">1000.0</text>
<text x="453.12" y="92.8">100.0</text>
<text x="344.82" y="88.0">10.0</text>
<text x="330.23" y="113.0">1.0</text>
<text x="306.98" y="148.0">0.1</text>
<text x="285.77" y="191.6">0.01</text>
</g>
</svg>
</body></html>
